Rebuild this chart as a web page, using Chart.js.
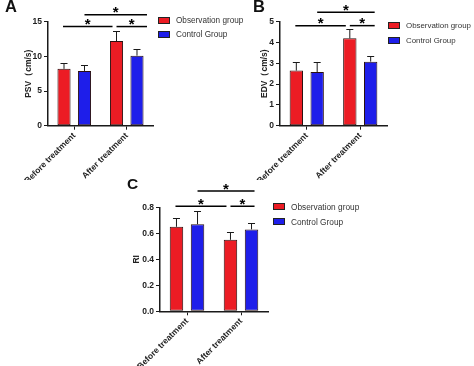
<!DOCTYPE html>
<html>
<head>
<meta charset="utf-8">
<script src="https://cdn.jsdelivr.net/npm/chart.js@4.4.1/dist/chart.umd.min.js"></script>
<style>
body { margin: 0; background: #fff; font-family: Arial, "Liberation Sans", sans-serif; }
#wrap { position: relative; width: 474px; height: 366px; overflow: hidden; }
canvas { position: absolute; }
.letter { position: absolute; font-weight: bold; line-height: 1; color: #111; }
.leg { position: absolute; height: 12px; display: flex; align-items: center; white-space: nowrap; color: #333; }
.leg span.sw { display: inline-block; box-sizing: border-box; width: 12px; height: 7px; border: 1px solid #222; margin-right: 6px; }
</style>
</head>
<body>
<div id="wrap">
  <canvas id="chartA" width="240" height="180" style="left:0;top:0"></canvas>
  <canvas id="chartB" width="234" height="180" style="left:240px;top:0"></canvas>
  <canvas id="chartC" width="260" height="196" style="left:120px;top:170px"></canvas>
  <div class="letter" style="left:5px;top:-2px;font-size:16.5px">A</div>
  <div class="letter" style="left:253px;top:-2px;font-size:16.5px">B</div>
  <div class="letter" style="left:127px;top:176px;font-size:15.5px">C</div>
  <div id="legends"></div>
</div>
<script>
// data
const categories = ['Before treatment', 'After treatment'];
const seriesNames = ['Observation group', 'Control Group'];

const psvObs = [8.2, 12.2];
const psvObsSd = [0.9, 1.4];
const psvCtrl = [7.9, 10.1];
const psvCtrlSd = [0.9, 0.9];
const psvTicks = [0, 5, 10, 15];

const edvObs = [2.65, 4.2];
const edvObsSd = [0.42, 0.43];
const edvCtrl = [2.58, 3.08];
const edvCtrlSd = [0.48, 0.27];
const edvTicks = [0, 1, 2, 3, 4, 5];

const riObs = [0.65, 0.55];
const riObsSd = [0.07, 0.06];
const riCtrl = [0.67, 0.63];
const riCtrlSd = [0.10, 0.05];
const riTicks = [0, 0.2, 0.4, 0.6, 0.8];

const RED = '#EC1C24';
const BLUE = '#1E1EEA';
const EDGE = '#2a1010';
const INK = '#1a1a1a';

// error bars + significance brackets
const extras = {
  id: 'extras',
  afterDatasetsDraw(chart, args, opts) {
    const ctx = chart.ctx;
    const y = chart.scales.y;
    ctx.save();
    ctx.strokeStyle = INK;
    ctx.lineWidth = 1;
    opts.sd.forEach((sd, di) => {
      const vals = chart.data.datasets[di].data;
      chart.getDatasetMeta(di).data.forEach((bar, i) => {
        const top = Math.round(y.getPixelForValue(vals[i] + sd[i])) + 0.5;
        ctx.beginPath();
        ctx.moveTo(bar.x, bar.y);
        ctx.lineTo(bar.x, top);
        ctx.moveTo(bar.x - 3.5, top);
        ctx.lineTo(bar.x + 3.5, top);
        ctx.stroke();
      });
    });

    ctx.strokeStyle = '#000';
    ctx.fillStyle = '#000';
    ctx.lineWidth = 1.5;
    ctx.font = 'bold 15px Arial';
    ctx.textAlign = 'center';
    ctx.textBaseline = 'alphabetic';
    opts.brackets.forEach(b => {
      const x1 = chart.getDatasetMeta(b.a[0]).data[b.a[1]].x + b.pad[0];
      const x2 = chart.getDatasetMeta(b.b[0]).data[b.b[1]].x + b.pad[1];
      const yy = y.getPixelForValue(b.level);
      ctx.beginPath();
      ctx.moveTo(x1, yy);
      ctx.lineTo(x2, yy);
      ctx.stroke();
      ctx.fillText('*', (x1 + x2) / 2, yy + 2.5);
    });
    ctx.restore();
  }
};

const tickFont = { family: 'Arial', size: 8.5, weight: 'bold' };

function makeChart(id, cfg) {
  return new Chart(document.getElementById(id), {
    type: 'bar',
    data: {
      labels: categories,
      datasets: [
        { label: seriesNames[0], data: cfg.obs, backgroundColor: RED, borderColor: EDGE, borderWidth: 1, borderSkipped: false },
        { label: seriesNames[1], data: cfg.ctrl, backgroundColor: BLUE, borderColor: EDGE, borderWidth: 1, borderSkipped: false }
      ]
    },
    options: {
      responsive: false,
      animation: false,
      devicePixelRatio: 1,
      layout: { padding: { left: 0, top: cfg.top, right: cfg.right, bottom: 0 } },
      datasets: { bar: { categoryPercentage: 0.78, barPercentage: 0.64 } },
      plugins: {
        legend: { display: false },
        tooltip: { enabled: false },
        extras: { sd: [cfg.obsSd, cfg.ctrlSd], brackets: cfg.brackets }
      },
      scales: {
        x: {
          offset: true,
          grid: { display: true, drawOnChartArea: false, offset: false, tickLength: 4, color: INK, tickWidth: 1 },
          border: { display: true, color: INK, width: 1.5 },
          ticks: { minRotation: 45, maxRotation: 45, padding: 1, color: '#222', font: tickFont },
          afterFit: s => { s.height = cfg.xh; }
        },
        y: {
          min: 0,
          max: cfg.ticks[cfg.ticks.length - 1],
          afterBuildTicks: s => { s.ticks = cfg.ticks.map(v => ({ value: v })); },
          grid: { display: true, drawOnChartArea: false, tickLength: 4, color: INK, tickWidth: 1 },
          border: { display: true, color: INK, width: 1.5 },
          ticks: { padding: 2, color: '#222', font: tickFont, callback: cfg.fmt },
          title: { display: true, text: cfg.title, color: '#222', font: tickFont, padding: { top: cfg.tpad, bottom: 0 } },
          afterFit: s => { s.width = cfg.yw; }
        }
      }
    },
    plugins: [extras]
  });
}

function bracketSet(lo, hi, endPad) {
  return [
    { a: [0, 0], b: [0, 1], level: lo, pad: [-1, -4] },
    { a: [0, 1], b: [1, 1], level: lo, pad: [0, endPad] },
    { a: [1, 0], b: [1, 1], level: hi, pad: [0, endPad] }
  ];
}

makeChart('chartA', {
  obs: psvObs, obsSd: psvObsSd, ctrl: psvCtrl, ctrlSd: psvCtrlSd, ticks: psvTicks,
  fmt: v => v, title: 'PSV（cm/s)',
  top: 21.7, right: 87, yw: 48, xh: 54.3, tpad: 23.4,
  brackets: bracketSet(14.3, 16.0, 10)
});

makeChart('chartB', {
  obs: edvObs, obsSd: edvObsSd, ctrl: edvCtrl, ctrlSd: edvCtrlSd, ticks: edvTicks,
  fmt: v => v, title: 'EDV（cm/s)',
  top: 21.7, right: 87, yw: 40, xh: 54.3, tpad: 19.9,
  brackets: bracketSet(4.81, 5.45, 4)
});

makeChart('chartC', {
  obs: riObs, obsSd: riObsSd, ctrl: riCtrl, ctrlSd: riCtrlSd, ticks: riTicks,
  fmt: v => v.toFixed(1), title: 'RI',
  top: 37.3, right: 112, yw: 40, xh: 54.7, tpad: 11.9,
  brackets: bracketSet(0.808, 0.925, 3)
});

// legends
const legendSpots = [
  { x: 158, ys: [20.5, 34], size: 8.2 },
  { x: 388, ys: [25, 40], size: 7.9 },
  { x: 273, ys: [206.5, 221.5], size: 8.3 }
];
const colors = [RED, BLUE];
const legHost = document.getElementById('legends');
legendSpots.forEach(spot => {
  seriesNames.forEach((name, i) => {
    const row = document.createElement('div');
    row.className = 'leg';
    row.style.left = spot.x + 'px';
    row.style.top = (spot.ys[i] - 6) + 'px';
    row.style.fontSize = spot.size + 'px';
    const sw = document.createElement('span');
    sw.className = 'sw';
    sw.style.background = colors[i];
    const tx = document.createElement('span');
    tx.textContent = name;
    row.appendChild(sw);
    row.appendChild(tx);
    legHost.appendChild(row);
  });
});
</script>
</body>
</html>
